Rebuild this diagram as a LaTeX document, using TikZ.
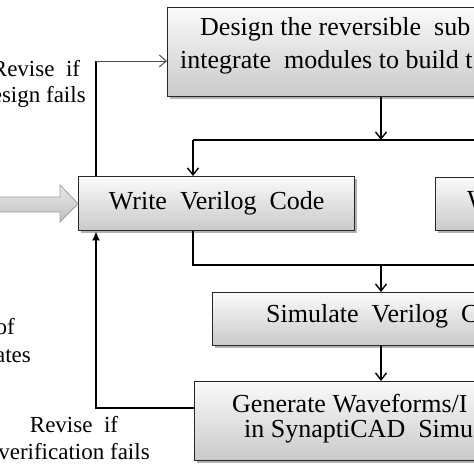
\documentclass[tikz,border=0pt]{standalone}
\usepackage{fontspec}
\setmainfont{Liberation Serif}
\usetikzlibrary{positioning,arrows.meta,shadows}

\tikzset{
  stepbox/.style={draw=black!85, line width=1.3pt, top color=gray!4, bottom color=gray!42,
    drop shadow={shadow xshift=2pt, shadow yshift=-2pt, fill=black!60},
    inner sep=0pt, anchor=north west},
  boxtext/.style={font=\fontsize{26}{33}\selectfont, inner sep=0pt, anchor=base west},
  sidetext/.style={font=\fontsize{23}{27}\selectfont, inner sep=0pt},
  flow/.style={line width=1.6pt, -{Straight Barb[length=7pt,width=11pt,line width=1.4pt]}},
  wire/.style={line width=1.6pt},
}

\begin{document}
\begin{tikzpicture}[x=1pt, y=-1pt]
    \useasboundingbox (0,0) rectangle (474,474);
    \clip (0,0) rectangle (474,474);

    % boxes
    \node[stepbox, minimum width=600pt, minimum height=89pt] (design) at (167,7) {};
    \node[boxtext] (designA) at (200,35) {Design the reversible~ sub};
    \node[boxtext] (designB) at (180,68) {integrate~ modules to build t};

    \node[stepbox, minimum width=276pt, minimum height=54pt, font=\fontsize{26}{33}\selectfont] (writeCode) at (78,176) {Write~ Verilog~ Code};

    \node[stepbox, minimum width=200pt, minimum height=53pt] (testBox) at (435,177) {};
    \node[boxtext] (testText) at (467,208) {W};

    \node[stepbox, minimum width=400pt, minimum height=53pt] (simulate) at (212,292) {};
    \node[boxtext] (simText) at (266,322) {Simulate~ Verilog~ Code};

    \node[stepbox, minimum width=400pt, minimum height=79pt] (generate) at (194,381) {};
    \node[boxtext] (genA) at (232,412) {Generate Waveforms/I};
    \node[boxtext] (genB) at (244,437) {in SynaptiCAD~ Simu};

    % side labels
    \node[sidetext, anchor=base] (reviseA) at (36,76) {Revise~ if};
    \node[sidetext, anchor=base] (reviseB) at (33,102) {design fails};
    \node[sidetext, anchor=base east] (libA) at (15,334) {of};
    \node[sidetext, anchor=base east] (libB) at (31,362) {ates};
    \node[sidetext, anchor=base] (reviseC) at (74,432) {Revise~ if};
    \node[sidetext, anchor=base] (reviseD) at (74,459) {verification fails};

    % input arrow
    \draw[gray!75, line width=0.8pt, top color=gray!18, bottom color=gray!50]
        (-10,197) -- (60,197) -- (60,185) -- (writeCode.west) -- (60,222) -- (60,212) -- (-10,212) -- cycle;

    % junction points
    \coordinate (busTopL) at (193,140);
    \coordinate (busTopM) at (381,140);
    \coordinate (busTopR) at (490,140);
    \coordinate (busBotL) at (193,265);
    \coordinate (busBotM) at (381,265);
    \coordinate (busBotR) at (490,265);
    \coordinate (fbTop) at (96,61);
    \coordinate (fbBot) at (96,408);

    % main flow
    \draw[flow] (design.south -| busTopM) -- (busTopM);
    \draw[wire] (busTopL) -- (busTopR);
    \draw[flow] (busTopL) -- (busTopL |- writeCode.north);
    \draw[wire] (busBotL |- writeCode.south) -- (busBotL) -- (busBotR);
    \draw[flow] (busBotM) -- (busBotM |- simulate.north);
    \draw[flow] (simulate.south -| busBotM) -- (generate.north -| busBotM);

    % feedback loops
    \draw[wire] (fbTop |- writeCode.north) -- (fbTop);
    \draw[line width=1pt, black!70, -{Straight Barb[length=7pt,width=12pt,line width=1pt]}] (fbTop) -- (fbTop -| design.west);
    \draw[wire, -{Latex[length=9pt,width=8pt]}] (generate.west |- fbBot) -- (fbBot) -- (fbBot |- writeCode.south);
\end{tikzpicture}
\end{document}
